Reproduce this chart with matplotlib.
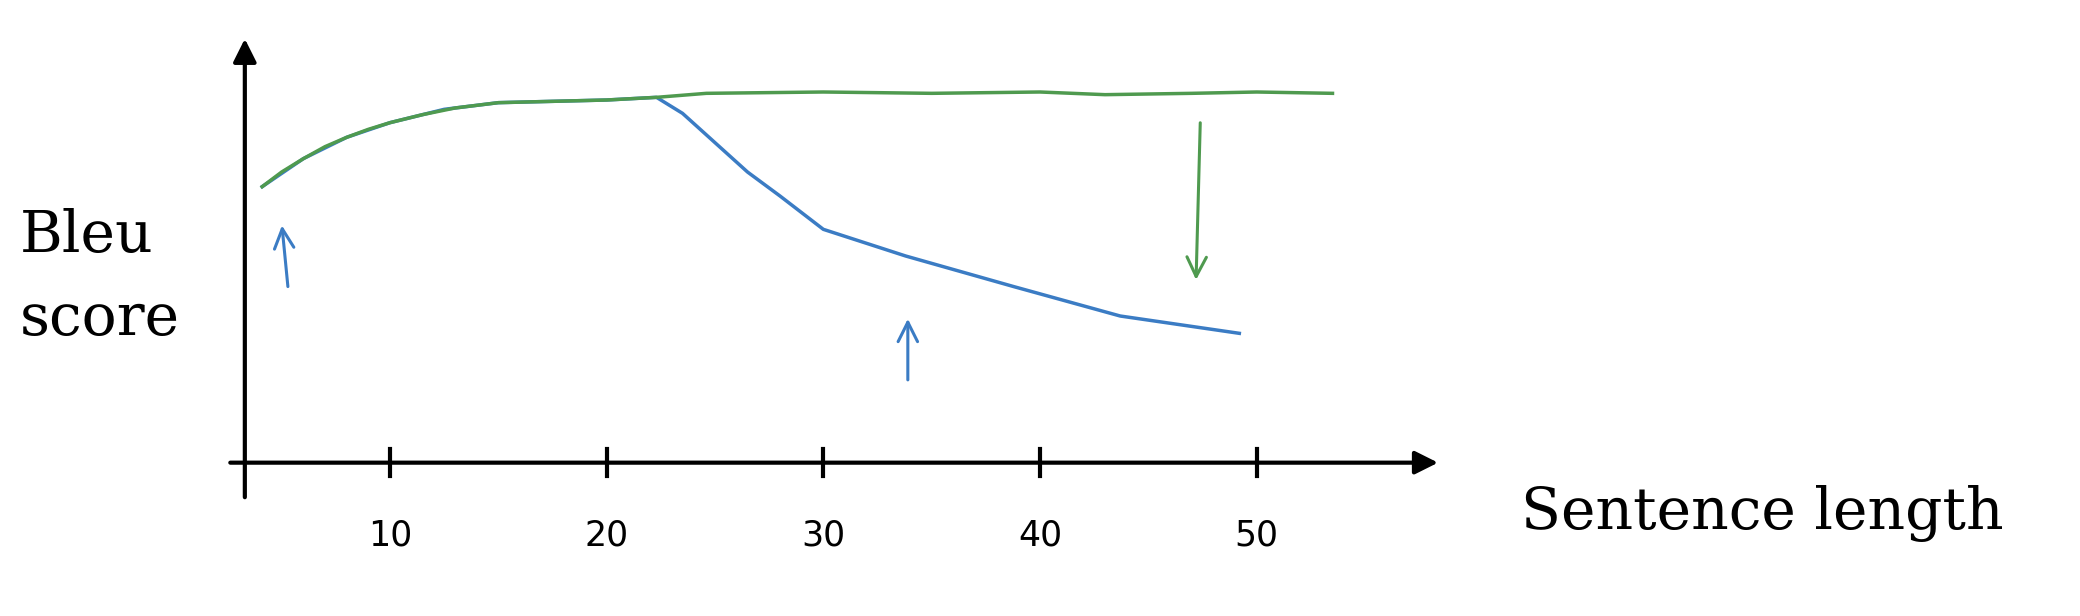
import matplotlib.pyplot as plt

# sentence length vs bleu score (arbitrary units)
green_len = [4.1, 5, 6, 7, 8, 9, 10, 11.5, 13, 15, 17.5, 20, 22.3, 24.6, 30, 35, 40, 43, 47, 50, 53.5]
green_score = [2.07, 2.18, 2.28, 2.37, 2.44, 2.50, 2.55, 2.61, 2.66, 2.70, 2.71, 2.72, 2.74, 2.77, 2.78, 2.77, 2.78, 2.76, 2.77, 2.78, 2.77]
blue_len = [4.1, 6, 8, 10, 12.5, 15, 17.5, 20, 22.3, 23.5, 25, 26.5, 28, 30, 33.8, 38.8, 43.7, 49.2]
blue_score = [2.07, 2.28, 2.44, 2.55, 2.65, 2.70, 2.71, 2.72, 2.74, 2.62, 2.40, 2.18, 2.00, 1.75, 1.55, 1.32, 1.10, 0.97]
ticks = [10, 20, 30, 40, 50]

blue = '#3b7cc4'
green = '#4f9a4f'

fig = plt.figure(figsize=(20.8, 6.16), dpi=100, facecolor='w')
ax = fig.add_axes([0, 0, 1, 1])
ax.set_xlim(-8, 88)
ax.set_ylim(-1.15, 3.47)
ax.axis('off')

ax.plot(blue_len, blue_score, color=blue, lw=2.5)
ax.plot(green_len, green_score, color=green, lw=2.5)

# hand-drawn axes
ax.annotate('', xy=(58.5, 0), xytext=(2.5, 0),
            arrowprops=dict(arrowstyle='-|>', color='black', lw=3, mutation_scale=35))
ax.annotate('', xy=(3.3, 3.2), xytext=(3.3, -0.28),
            arrowprops=dict(arrowstyle='-|>', color='black', lw=3, mutation_scale=35))
for t in ticks:
    ax.plot([t, t], [-0.1, 0.1], color='black', lw=3)
    ax.text(t, -0.55, str(t), ha='center', va='center', fontsize=25)

# arrows marking trends
ax.annotate('', xy=(5, 1.8), xytext=(5.3, 1.3),
            arrowprops=dict(arrowstyle='->', color=blue, lw=2.2, mutation_scale=35))
ax.annotate('', xy=(33.9, 1.1), xytext=(33.9, 0.6),
            arrowprops=dict(arrowstyle='->', color=blue, lw=2.2, mutation_scale=35))
ax.annotate('', xy=(47.2, 1.35), xytext=(47.4, 2.57),
            arrowprops=dict(arrowstyle='->', color=green, lw=2.2, mutation_scale=35))

ax.text(-7.1, 1.7, 'Bleu', fontsize=42, family='DejaVu Serif', va='center')
ax.text(-7.1, 1.08, 'score', fontsize=42, family='DejaVu Serif', va='center')
ax.text(62.2, -0.38, 'Sentence length', fontsize=42, family='DejaVu Serif', va='center')

fig.savefig('out.png', dpi=100)
